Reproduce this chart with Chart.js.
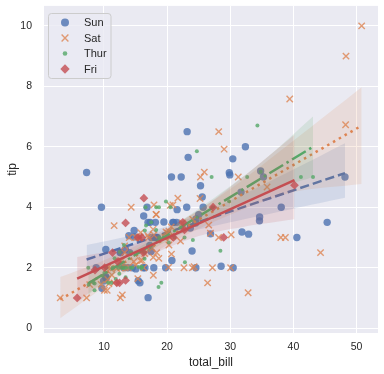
<!DOCTYPE html>
<html>
<head>
<meta charset="utf-8">
<script src="https://cdn.jsdelivr.net/npm/chart.js@4/dist/chart.umd.min.js"></script>
<style>
  html, body { margin: 0; padding: 0; background: #ffffff; }
  #wrap { width: 384px; height: 374px; }
</style>
</head>
<body>
<div id="wrap"><canvas id="chart" width="384" height="374"></canvas></div>
<script>
// Points per day (total_bill, tip)
const sunBill = [16.99,10.34,21.01,23.68,24.59,25.29,8.77,26.88,15.04,14.78,10.27,35.26,15.42,18.43,14.83,21.58,10.33,16.29,16.97,
  17.46,13.94,9.68,30.40,18.29,22.23,32.40,28.55,18.04,12.54,10.29,34.81,9.94,25.56,19.49,
  38.07,23.95,25.71,17.31,29.93,
  14.07,13.13,17.26,24.55,19.77,29.85,48.17,25.00,13.39,16.49,21.50,12.66,16.21,13.81,17.51,24.52,20.76,31.71,
  7.25,31.85,16.82,32.90,17.89,14.48,9.60,34.63,34.65,23.33,45.35,23.17,40.55,20.69,20.90,30.46,18.15,23.10,15.69];
const sunTip = [1.01,1.66,3.50,3.31,3.61,4.71,2.00,3.12,1.96,3.23,1.71,5.00,1.57,3.00,3.02,3.92,1.67,3.71,3.50,
  2.54,3.06,1.32,5.60,3.00,5.00,6.00,2.05,3.00,2.50,2.60,5.20,1.56,4.34,3.51,
  4.00,2.55,4.00,3.50,5.07,
  2.50,2.00,2.74,2.00,2.00,5.14,5.00,3.75,2.61,2.00,3.50,2.50,2.00,2.00,3.00,3.48,2.24,4.50,
  5.15,3.18,4.00,3.11,2.00,2.00,4.00,3.55,3.68,5.65,3.50,6.50,3.00,5.00,3.50,2.00,3.50,4.00,1.50];

const satBill = [20.65,17.92,20.29,15.77,39.42,19.82,17.81,13.37,12.69,21.70,19.65,9.55,18.35,15.06,20.69,17.78,24.06,16.31,16.93,18.69,31.27,16.04,
  38.01,26.41,11.24,48.27,20.29,13.81,11.02,18.29,17.59,20.08,16.45,3.07,20.23,15.01,12.02,17.07,26.86,25.28,14.73,10.51,17.92,
  44.30,22.42,20.92,15.36,20.49,25.21,18.24,14.31,14.00,7.25,
  10.59,10.63,50.81,15.81,
  26.59,38.73,24.27,12.76,30.06,25.89,48.33,13.27,28.17,12.90,28.15,11.59,7.74,30.14,
  20.45,13.28,22.12,24.01,15.69,11.61,10.77,15.53,10.07,12.60,32.83,35.83,29.03,27.18,22.67,17.82];
const satTip = [3.35,4.08,2.75,2.23,7.58,3.18,2.34,2.00,2.00,4.30,3.00,1.45,2.50,3.00,2.45,3.27,3.60,2.00,3.07,2.31,5.00,2.24,
  3.00,1.50,1.76,6.73,3.21,2.00,1.98,3.76,2.64,3.15,2.47,1.00,2.01,2.09,1.97,3.00,3.14,5.00,2.20,1.25,3.08,
  2.50,3.48,4.08,1.64,4.06,4.29,3.76,4.00,3.00,1.00,
  1.61,2.00,10.00,3.16,
  3.41,3.00,2.03,2.23,2.00,5.16,9.00,2.50,6.50,1.10,3.00,1.50,1.44,3.09,
  3.00,2.72,2.88,2.00,3.00,3.39,1.47,3.00,1.25,1.00,1.17,4.67,5.92,2.00,2.00,1.75];

const thurBill = [27.20,22.76,17.29,19.44,16.66,10.07,32.68,15.98,34.83,13.03,18.28,24.71,21.16,
  10.65,12.43,24.08,11.69,13.42,14.26,15.95,12.48,29.80,8.52,14.52,11.38,22.82,19.08,20.27,11.17,12.26,18.26,8.51,10.33,14.15,16.00,13.16,17.47,34.30,41.19,27.05,16.43,8.35,18.64,11.87,9.78,7.51,
  19.81,28.44,15.48,16.58,7.56,10.34,43.11,13.00,13.51,18.71,12.74,13.00,16.40,20.53,16.47,18.78];
const thurTip = [4.00,3.00,2.71,3.00,3.40,1.83,5.00,2.03,5.17,2.00,4.00,5.85,3.00,
  1.50,1.80,2.92,2.31,1.68,2.50,2.00,2.52,4.20,1.48,2.00,2.00,2.18,1.50,2.83,1.50,2.00,3.25,1.25,2.00,2.00,2.00,2.75,3.50,6.70,5.00,5.00,2.30,1.50,1.36,1.63,1.73,2.00,
  4.19,2.56,2.02,4.00,1.44,2.00,5.00,2.00,2.00,4.00,2.01,2.00,2.50,4.00,3.23,3.00];

const friBill = [28.97,22.49,5.75,16.32,22.75,40.17,27.28,12.03,21.01,12.46,11.35,15.38,12.16,13.42,8.58,15.98,13.42,16.27,10.09];
const friTip = [3.00,3.50,1.00,4.30,3.25,4.73,4.00,1.50,3.00,1.50,2.50,3.00,2.20,3.48,1.92,3.00,1.58,2.50,2.00];

// Fit lines (start and end of each line)
const sunFitX = [7.25, 48.17], sunFitY = [2.27, 5.13];
const satFitX = [3.07, 50.81], satFitY = [0.95, 6.70];
const thurFitX = [7.51, 43.11], thurFitY = [1.48, 6.00];
const friFitX = [5.75, 40.17], friFitY = [1.64, 4.90];

// Confidence bands (upper / lower edges)
const sunBandX = [7.25, 14, 21.4, 30, 40, 48.17];
const sunBandHi = [2.75, 3.05, 3.46, 4.22, 5.25, 6.12];
const sunBandLo = [1.80, 2.44, 3.06, 3.50, 3.95, 4.31];
const satBandX = [3.07, 10, 20, 30, 40, 50.81];
const satBandHi = [1.69, 2.25, 3.25, 4.60, 6.20, 7.97];
const satBandLo = [0.33, 1.35, 2.75, 3.75, 4.50, 4.77];
const thurBandX = [7.51, 12, 17.7, 25, 35, 43.11];
const thurBandHi = [1.85, 2.25, 2.95, 3.95, 5.50, 7.00];
const thurBandLo = [1.10, 1.85, 2.60, 3.45, 4.45, 5.00];
const friBandX = [5.75, 12, 17.15, 25, 32, 40.17];
const friBandHi = [2.35, 2.60, 3.00, 3.90, 5.00, 6.40];
const friBandLo = [0.85, 1.85, 2.40, 3.05, 3.35, 3.60];

const dayNames = ['Sun', 'Sat', 'Thur', 'Fri'];
const xTicks = [10, 20, 30, 40, 50];
const yTicks = [0, 2, 4, 6, 8, 10];

const FONT = "'Liberation Sans', Arial, sans-serif";
const TEXT = '#262626';

function pts(xs, ys) {
  return xs.map((x, i) => ({ x: x, y: ys[i] }));
}

function rgba(rgb, a) {
  return 'rgba(' + rgb.join(',') + ',' + a + ')';
}

// one entry per day: colour, marker, line dash
const days = [
  { name: dayNames[0], rgb: [76, 114, 176], bill: sunBill, tip: sunTip, fitX: sunFitX, fitY: sunFitY,
    bandX: sunBandX, hi: sunBandHi, lo: sunBandLo, marker: 'circle', radius: 3.7, bw: 0, dash: [9.25, 4] },
  { name: dayNames[1], rgb: [221, 132, 82], bill: satBill, tip: satTip, fitX: satFitX, fitY: satFitY,
    bandX: satBandX, hi: satBandHi, lo: satBandLo, marker: 'crossRot', radius: 4.5, bw: 1.4, dash: [2.5, 4.2] },
  { name: dayNames[2], rgb: [85, 168, 104], bill: thurBill, tip: thurTip, fitX: thurFitX, fitY: thurFitY,
    bandX: thurBandX, hi: thurBandHi, lo: thurBandLo, marker: 'circle', radius: 2, bw: 0, dash: [16, 4, 2.5, 4] },
  { name: dayNames[3], rgb: [196, 78, 82], bill: friBill, tip: friTip, fitX: friFitX, fitY: friFitY,
    bandX: friBandX, hi: friBandHi, lo: friBandLo, marker: 'rectRot', radius: 4.4, bw: 0, dash: [] }
];

// build datasets: scatter, band (upper + lower), fit line; later days on top
const datasets = [];
days.forEach((d, k) => {
  const base = 100 - k * 10;
  datasets.push({
    type: 'scatter',
    label: d.name,
    data: pts(d.bill, d.tip),
    pointStyle: d.marker,
    pointRadius: d.radius,
    pointHoverRadius: d.radius,
    backgroundColor: rgba(d.rgb, 0.8),
    borderColor: rgba(d.rgb, 0.8),
    pointBorderWidth: d.bw,
    borderWidth: d.bw,
    order: base
  });
  datasets.push({
    type: 'line',
    label: d.name + ' band',
    data: pts(d.bandX, d.hi),
    fill: '+1',
    backgroundColor: rgba(d.rgb, 0.15),
    borderWidth: 0,
    pointRadius: 0,
    tension: 0.3,
    order: base - 1
  });
  datasets.push({
    type: 'line',
    label: d.name + ' band lo',
    data: pts(d.bandX, d.lo),
    fill: false,
    borderWidth: 0,
    pointRadius: 0,
    tension: 0.3,
    order: base - 2
  });
  datasets.push({
    type: 'line',
    label: d.name + ' fit',
    data: pts(d.fitX, d.fitY),
    fill: false,
    borderColor: rgba(d.rgb, 1),
    borderWidth: 2.5,
    borderDash: d.dash,
    pointRadius: 0,
    order: base - 3
  });
});

// grey plot background
const plotBg = {
  id: 'plotBg',
  beforeDraw(chart) {
    const a = chart.chartArea;
    const ctx = chart.ctx;
    ctx.save();
    ctx.fillStyle = '#EAEAF2';
    ctx.fillRect(a.left, a.top, a.right - a.left, a.bottom - a.top);
    ctx.restore();
  }
};

// legend box in the top-left corner of the plot
const cornerLegend = {
  id: 'cornerLegend',
  afterDraw(chart) {
    const ctx = chart.ctx;
    const bx = 48.5, by = 13.5, bw = 62.5, bh = 65;
    ctx.save();
    ctx.beginPath();
    ctx.roundRect(bx, by, bw, bh, 3);
    ctx.fillStyle = 'rgba(234,234,242,0.8)';
    ctx.fill();
    ctx.strokeStyle = '#cccccc';
    ctx.lineWidth = 1;
    ctx.stroke();
    ctx.font = '11px ' + FONT;
    ctx.textBaseline = 'middle';
    ctx.textAlign = 'left';
    days.forEach((d, i) => {
      const y = 22.5 + i * 15.5;
      ctx.fillStyle = rgba(d.rgb, 0.8);
      ctx.strokeStyle = rgba(d.rgb, 0.8);
      ctx.lineWidth = d.bw;
      Chart.helpers.drawPoint(ctx, {
        pointStyle: d.marker,
        radius: d.radius + 0.3,
        borderWidth: d.bw,
        rotation: 0
      }, 65, y);
      ctx.fillStyle = TEXT;
      ctx.fillText(d.name, 84, y + 0.5);
    });
    ctx.restore();
  }
};

// keep the plot box fixed: no extra room for overhanging tick labels
function noOverhang(s) {
  s.paddingTop = 0;
  s.paddingBottom = 0;
  s.paddingLeft = 0;
  s.paddingRight = 0;
}

new Chart(document.getElementById('chart'), {
  type: 'scatter',
  data: { datasets: datasets },
  options: {
    responsive: false,
    animation: false,
    devicePixelRatio: 1,
    layout: { padding: { top: 4, right: 6, left: 0, bottom: 0 } },
    plugins: {
      legend: { display: false },
      tooltip: { enabled: false }
    },
    scales: {
      x: {
        type: 'linear',
        min: 0.5,
        max: 53.4,
        afterBuildTicks: s => { s.ticks = xTicks.map(v => ({ value: v })); },
        afterFit: s => { s.height = 41; noOverhang(s); },
        grid: { color: '#ffffff', lineWidth: 1, drawTicks: false },
        border: { display: false },
        ticks: { color: TEXT, font: { family: FONT, size: 10.5 }, padding: 8 },
        title: { display: true, text: 'total_bill', color: TEXT, font: { family: FONT, size: 12 }, padding: { top: 0, bottom: 4 } }
      },
      y: {
        type: 'linear',
        min: -0.16,
        max: 10.66,
        afterBuildTicks: s => { s.ticks = yTicks.map(v => ({ value: v })); },
        afterFit: s => { s.width = 44; noOverhang(s); },
        grid: { color: '#ffffff', lineWidth: 1, drawTicks: false },
        border: { display: false },
        ticks: { color: TEXT, font: { family: FONT, size: 10.5 }, padding: 12 },
        title: { display: true, text: 'tip', color: TEXT, font: { family: FONT, size: 12 }, padding: { top: 5, bottom: 0 } }
      }
    }
  },
  plugins: [plotBg, cornerLegend]
});
</script>
</body>
</html>
